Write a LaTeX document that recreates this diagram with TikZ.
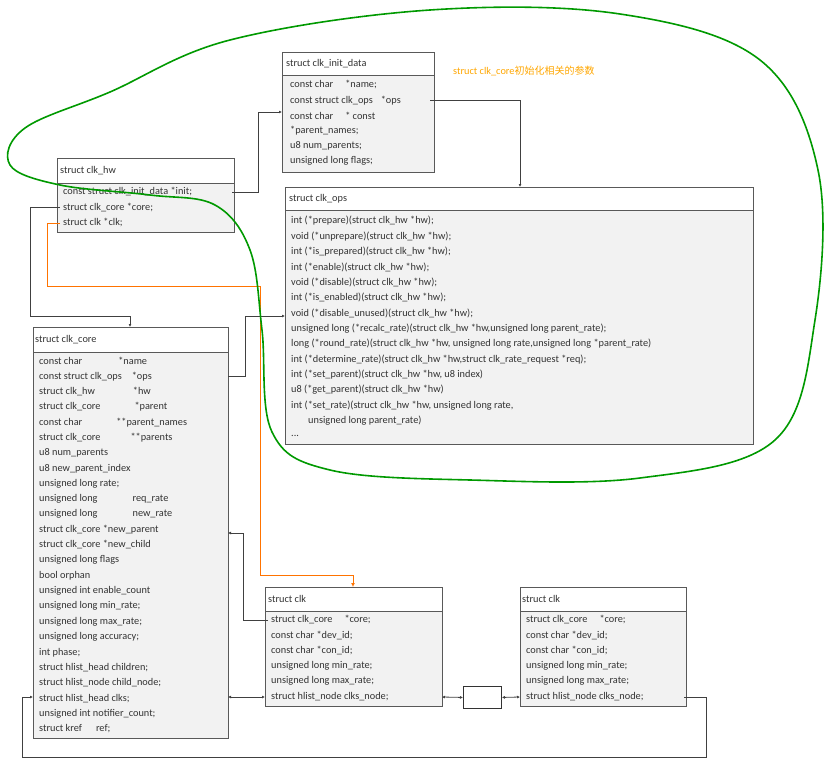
\documentclass[tikz,border=0pt]{standalone}
\usepackage{fontspec}
\usetikzlibrary{arrows.meta}
\setmainfont{Carlito}
\newfontfamily\cjk{Noto Sans CJK SC}
\begin{document}
\begin{tikzpicture}[x=1pt,y=-1pt,font=\fontsize{10.3}{12}\selectfont,
  box/.style={draw=black!65,fill=black!5,line width=0.9pt,anchor=north west,inner sep=0pt},
  hdr/.style={draw=black!65,fill=white,line width=0.9pt,anchor=north west,inner sep=0pt},
  ln/.style={anchor=west,inner sep=0pt,text=black!80},
  con/.style={draw=black!75,line width=0.8pt,-{Latex[length=3pt,width=3pt]}},
  dcon/.style={draw=black!75,line width=0.8pt,{Latex[length=3pt,width=3pt]}-{Latex[length=3pt,width=3pt]}},
  org/.style={draw=orange!90!red,line width=1pt,-{Latex[length=4pt,width=4pt]}}]
\useasboundingbox (0,0) rectangle (831,760);
% clk_init_data
\node[box,minimum width=152pt,minimum height=120pt] (idata) at (282,52) {};
\node[hdr,minimum width=152pt,minimum height=23pt] (idatah) at (282,52) {};
\node[ln] (idt) at (286,63.5) {struct clk\_init\_data};
\foreach \t [count=\i] in {const char\hspace{12pt}*name;,const struct clk\_ops\hspace{8pt}*ops,const char\hspace{12pt}* const,*parent\_names;,u8 num\_parents;,unsigned long flags;}
  \node[ln] (id\i) at (290,{85+15.2*(\i-1)}) {\t};
% clk_ops
\node[box,minimum width=468pt,minimum height=257pt] (ops) at (285,187) {};
\node[hdr,minimum width=468pt,minimum height=23pt] (opsh) at (285,187) {};
\node[ln] (opst) at (289,199) {struct clk\_ops};
\foreach \t [count=\i] in {int (*prepare)(struct clk\_hw *hw);,void (*unprepare)(struct clk\_hw *hw);,int (*is\_prepared)(struct clk\_hw *hw);,int (*enable)(struct clk\_hw *hw);,void (*disable)(struct clk\_hw *hw);,int (*is\_enabled)(struct clk\_hw *hw);,void (*disable\_unused)(struct clk\_hw *hw);,{unsigned long (*recalc\_rate)(struct clk\_hw *hw,unsigned long parent\_rate);},{long (*round\_rate)(struct clk\_hw *hw, unsigned long rate,unsigned long *parent\_rate)},{int (*determine\_rate)(struct clk\_hw *hw,struct clk\_rate\_request *req);},{int (*set\_parent)(struct clk\_hw *hw, u8 index)},u8 (*get\_parent)(struct clk\_hw *hw),{int (*set\_rate)(struct clk\_hw *hw, unsigned long rate,},\hspace{17pt}unsigned long parent\_rate),{.\kern0pt.\kern0pt.}}
  \node[ln] (op\i) at (291,{221+15.36*(\i-1)}) {\t};
% clk_hw
\node[box,minimum width=177pt,minimum height=74pt] (hw) at (57,158) {};
\node[hdr,minimum width=177pt,minimum height=25pt] (hwh) at (57,158) {};
\node[ln] (hwt) at (60,171) {struct clk\_hw};
\foreach \t [count=\i] in {const struct clk\_init\_data *init;,struct clk\_core *core;,struct clk *clk;}
  \node[ln] (hw\i) at (63,{192+15.3*(\i-1)}) {\t};
% clk_core
\node[box,minimum width=195pt,minimum height=411pt] (core) at (33,327) {};
\node[hdr,minimum width=195pt,minimum height=25pt] (coreh) at (33,327) {};
\node[ln] (coret) at (35,340) {struct clk\_core};
\foreach \t [count=\i] in {const char\hspace{36pt}*name,const struct clk\_ops\hspace{10pt}*ops,struct clk\_hw\hspace{38pt}*hw,struct clk\_core\hspace{34pt}*parent,const char\hspace{34pt}**parent\_names,struct clk\_core\hspace{30pt}**parents,u8 num\_parents,u8 new\_parent\_index,unsigned long rate;,unsigned long\hspace{35pt}req\_rate,unsigned long\hspace{35pt}new\_rate,struct clk\_core *new\_parent,struct clk\_core *new\_child,unsigned long flags,bool orphan,unsigned int enable\_count,unsigned long min\_rate;,unsigned long max\_rate;,unsigned long accuracy;,int phase;,struct hlist\_head children;,struct hlist\_node child\_node;,struct hlist\_head clks;,unsigned int notifier\_count;,struct kref\hspace{14pt}ref;}
  \node[ln] (co\i) at (39,{361+15.33*(\i-1)}) {\t};
% clk 1
\node[box,minimum width=177pt,minimum height=119pt] (clka) at (265,587) {};
\node[hdr,minimum width=177pt,minimum height=24pt] (clkah) at (265,587) {};
\node[ln] (clkat) at (268,599) {struct clk};
\foreach \t [count=\i] in {struct clk\_core\hspace{12pt}*core;,const char *dev\_id;,const char *con\_id;,unsigned long min\_rate;,unsigned long max\_rate;,struct hlist\_node clks\_node;}
  \node[ln] (ca\i) at (271,{620+15.3*(\i-1)}) {\t};
% clk 2
\node[box,minimum width=166pt,minimum height=119pt] (clkb) at (520,587) {};
\node[hdr,minimum width=166pt,minimum height=24pt] (clkbh) at (520,587) {};
\node[ln] (clkbt) at (522,599) {struct clk};
\foreach \t [count=\i] in {struct clk\_core\hspace{12pt}*core;,const char *dev\_id;,const char *con\_id;,unsigned long min\_rate;,unsigned long max\_rate;,struct hlist\_node clks\_node;}
  \node[ln] (cb\i) at (526,{620+15.3*(\i-1)}) {\t};
% small box
\node[draw=black!80,fill=white,line width=0.9pt,minimum width=38pt,minimum height=22pt,anchor=north west,inner sep=0pt] (mid) at (463,686) {};
% label
\node[anchor=west,inner sep=0pt,text=orange!70!yellow] (lbl) at (453,71) {struct clk\_core{\cjk\fontsize{10}{12}\selectfont 初始化相关的参数}};
% connectors
\coordinate (a1) at (232,192); \coordinate (a2) at (282,112);
\draw[con] (a1) -- (258,192) -- (258,112) -- (a2);
\coordinate (b1) at (430,100); \coordinate (b2) at (520,187);
\draw[con] (b1) -- (520,100) -- (b2);
\coordinate (c1) at (60,207); \coordinate (c2) at (130,327);
\draw[con] (c1) -- (30,207) -- (30,316) -- (130,316) -- (c2);
\coordinate (d1) at (60,223); \coordinate (d2) at (353,587);
\draw[org] (d1) -- (47,223) -- (47,286) -- (260,286) -- (260,575) -- (353,575) -- (d2);
\coordinate (e1) at (228,376); \coordinate (e2) at (285,316);
\draw[con] (e1) -- (245,376) -- (245,316) -- (e2);
\coordinate (f1) at (268,620); \coordinate (f2) at (228,533);
\draw[con] (f1) -- (243,620) -- (243,533) -- (f2);
\coordinate (h1) at (228,697); \coordinate (h2) at (265,697);
\coordinate (h3) at (442,697); \coordinate (h4) at (520,697);
\draw[dcon] (h1) -- (h2);
\draw[dcon] (h3) -- (mid.west);
\draw[dcon] (mid.east) -- (h4);
\coordinate (g1) at (684,697); \coordinate (g2) at (33,697);
\draw[con] (g1) -- (706,697) -- (706,757) -- (22,757) -- (22,697) -- (g2);
% green loop
\draw[draw=green!60!black,line width=1.6pt] plot[smooth cycle,tension=0.6] coordinates {
 (430,10) (620,14) (760,60) (818,170) (815,320) (775,440) (640,478) (470,480) (330,470) (272,432) (262,330) (250,250) (215,205) (150,195) (60,185) (10,165) (25,128) (110,92) (230,40)};
\end{tikzpicture}
\end{document}
